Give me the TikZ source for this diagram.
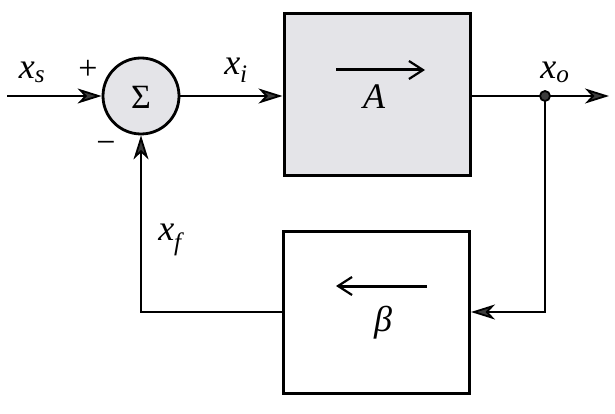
\documentclass[tikz,border=0pt]{standalone}
\usepackage{fontspec}
\newfontfamily\labfont{Liberation Serif}
\usetikzlibrary{arrows.meta}
\definecolor{boxgray}{RGB}{228,228,232}
\definecolor{headgray}{RGB}{60,60,60}
\begin{document}
\begin{tikzpicture}[x=1pt,y=-1pt,
  wire/.style={line width=1.8pt},
  sig/.style={wire, -{Stealth[length=24pt,width=15pt,inset=7pt,fill=headgray]}},
  blk/.style={draw, line width=3pt, minimum width=186pt, minimum height=162pt, inner sep=0pt},
  dir/.style={line width=3pt, -{Straight Barb[length=14pt,width=18pt,line width=2.2pt]}},
  lbl/.style={inner sep=0pt, font=\labfont\itshape\fontsize{36}{36}\selectfont},
  sym/.style={inner sep=0pt, font=\labfont\fontsize{34}{34}\selectfont},
]
\useasboundingbox (0,0) rectangle (615,414);
% blocks
\node[circle, draw, line width=2.8pt, fill=boxgray, minimum size=76pt, inner sep=0pt] (sum) at (141,96) {};
\node[sym] (sigma) at (141,97) {Σ};
\node[blk, fill=boxgray] (A) at (377,95) {};
\node[blk, fill=white] (B) at (376.5,312) {};
% coordinates
\coordinate (in) at (7,96);
\coordinate (dot) at (545,96);
\coordinate (out) at (609,96);
% connectors
\draw[sig] (in) -- (sum.west);
\draw[sig] (sum.east) -- (sum.east -| A.west);
\draw[wire] (sum.east -| A.east) -- (dot);
\draw[sig] (dot) -- (out);
\draw[sig] (dot) |- (B.east);
\draw[sig] (B.west) -| (sum.south);
\fill[headgray] (dot) circle (5pt);
\draw[wire] (dot) circle (5pt);
% inner direction arrows
\coordinate (a1) at (336,70);
\coordinate (a2) at (425,70);
\draw[dir] (a1) -- (a2);
\coordinate (b1) at (427,286);
\coordinate (b2) at (336,286);
\draw[dir] (b1) -- (b2);
% labels
\node[lbl] (xs) at (32,72) {x\textsubscript{s}};
\node[sym] (plus) at (88,70) {+};
\node[sym] (minus) at (106,147) {−};
\node[lbl] (xi) at (236,70) {x\textsubscript{i}};
\node[lbl] (xo) at (555,72) {x\textsubscript{o}};
\node[lbl] (xf) at (170,240) {x\textsubscript{f}};
\node[lbl] (Alab) at (374,97) {A};
\node[lbl] (blab) at (383,323) {β};
\end{tikzpicture}
\end{document}
